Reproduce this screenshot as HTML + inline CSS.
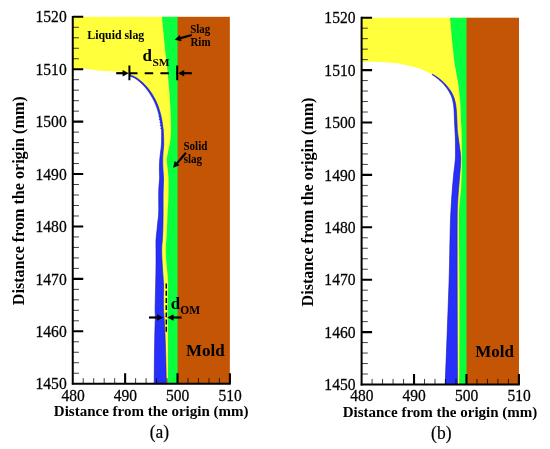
<!DOCTYPE html>
<html><head><meta charset="utf-8"><title>Figure</title>
<style>html,body{margin:0;padding:0;background:#fff}svg{display:block}text{font-family:"Liberation Serif",serif;fill:#000}</style>
</head><body>
<svg width="550" height="449" viewBox="0 0 550 449">
<rect width="550" height="449" fill="#fff"/>
<rect x="73.05" y="16.8" width="104.5" height="366.9" fill="#ffff3c"/>
<path d="M73.00,68.20C74.67,68.25 80.08,68.28 83.00,68.50C85.92,68.72 87.57,69.12 90.50,69.50C93.43,69.88 97.43,70.50 100.60,70.80C103.77,71.10 106.93,71.17 109.50,71.30C112.07,71.43 113.75,71.43 116.00,71.60C118.25,71.77 120.75,71.98 123.00,72.30C125.25,72.62 128.42,73.30 129.50,73.50L129.50,74.20C129.63,74.53 129.80,75.72 130.30,76.19C130.80,76.66 131.76,76.69 132.48,77.01C133.20,77.33 133.89,77.70 134.61,78.11C135.34,78.53 136.12,78.99 136.85,79.51C137.58,80.02 138.28,80.60 138.99,81.20C139.71,81.80 140.43,82.43 141.15,83.10C141.86,83.76 142.56,84.43 143.30,85.19C144.03,85.95 144.81,86.80 145.54,87.67C146.27,88.55 146.96,89.46 147.69,90.46C148.42,91.45 149.22,92.53 149.94,93.63C150.65,94.74 151.34,95.95 151.99,97.11C152.64,98.26 153.25,99.39 153.84,100.58C154.43,101.77 155.04,103.12 155.52,104.23C155.99,105.35 156.34,106.29 156.70,107.29C157.06,108.29 157.36,109.18 157.69,110.25C158.02,111.32 158.38,112.60 158.68,113.72C158.98,114.84 159.24,115.91 159.47,116.98C159.70,118.05 159.86,119.04 160.06,120.15C160.26,121.26 160.48,122.47 160.66,123.63C160.84,124.79 161.01,126.04 161.16,127.12C161.31,128.20 161.48,128.30 161.56,130.11C161.63,131.93 161.63,135.52 161.60,138.00C161.57,140.48 161.57,142.67 161.40,145.00C161.23,147.33 160.88,149.50 160.60,152.00C160.32,154.50 159.90,157.00 159.70,160.00C159.50,163.00 159.42,167.00 159.40,170.00C159.38,173.00 159.68,175.17 159.60,178.00C159.52,180.83 159.05,184.00 158.90,187.00C158.75,190.00 158.73,191.67 158.70,196.00C158.67,200.33 158.85,208.67 158.70,213.00C158.55,217.33 158.10,219.00 157.80,222.00C157.50,225.00 157.20,228.00 156.90,231.00C156.60,234.00 156.15,237.17 156.00,240.00C155.85,242.83 156.00,243.67 156.00,248.00C156.00,252.33 156.05,260.00 156.00,266.00C155.95,272.00 155.82,278.33 155.70,284.00C155.58,289.67 155.40,295.67 155.30,300.00C155.20,304.33 155.10,307.17 155.10,310.00C155.10,312.83 155.35,312.83 155.30,317.00C155.25,321.17 154.95,327.83 154.80,335.00C154.65,342.17 154.50,351.88 154.40,360.00C154.30,368.12 154.23,379.75 154.20,383.70L73.05,383.7Z" fill="#fff"/>
<path d="M129.50,74.20C129.63,74.53 129.80,75.72 130.30,76.19C130.80,76.66 131.76,76.69 132.48,77.01C133.20,77.33 133.89,77.70 134.61,78.11C135.34,78.53 136.12,78.99 136.85,79.51C137.58,80.02 138.28,80.60 138.99,81.20C139.71,81.80 140.43,82.43 141.15,83.10C141.86,83.76 142.56,84.43 143.30,85.19C144.03,85.95 144.81,86.80 145.54,87.67C146.27,88.55 146.96,89.46 147.69,90.46C148.42,91.45 149.22,92.53 149.94,93.63C150.65,94.74 151.34,95.95 151.99,97.11C152.64,98.26 153.25,99.39 153.84,100.58C154.43,101.77 155.04,103.12 155.52,104.23C155.99,105.35 156.34,106.29 156.70,107.29C157.06,108.29 157.36,109.18 157.69,110.25C158.02,111.32 158.38,112.60 158.68,113.72C158.98,114.84 159.24,115.91 159.47,116.98C159.70,118.05 159.86,119.04 160.06,120.15C160.26,121.26 160.48,122.47 160.66,123.63C160.84,124.79 161.01,126.04 161.16,127.12C161.31,128.20 161.48,128.30 161.56,130.11C161.63,131.93 161.63,135.52 161.60,138.00C161.57,140.48 161.57,142.67 161.40,145.00C161.23,147.33 160.88,149.50 160.60,152.00C160.32,154.50 159.90,157.00 159.70,160.00C159.50,163.00 159.42,167.00 159.40,170.00C159.38,173.00 159.68,175.17 159.60,178.00C159.52,180.83 159.05,184.00 158.90,187.00C158.75,190.00 158.73,191.67 158.70,196.00C158.67,200.33 158.85,208.67 158.70,213.00C158.55,217.33 158.10,219.00 157.80,222.00C157.50,225.00 157.20,228.00 156.90,231.00C156.60,234.00 156.15,237.17 156.00,240.00C155.85,242.83 156.00,243.67 156.00,248.00C156.00,252.33 156.05,260.00 156.00,266.00C155.95,272.00 155.82,278.33 155.70,284.00C155.58,289.67 155.40,295.67 155.30,300.00C155.20,304.33 155.10,307.17 155.10,310.00C155.10,312.83 155.35,312.83 155.30,317.00C155.25,321.17 154.95,327.83 154.80,335.00C154.65,342.17 154.50,351.88 154.40,360.00C154.30,368.12 154.23,379.75 154.20,383.70L166.30,383.70C166.22,379.75 166.02,368.12 165.80,360.00C165.58,351.88 165.30,342.17 165.00,335.00C164.70,327.83 164.25,321.17 164.00,317.00C163.75,312.83 163.60,312.83 163.50,310.00C163.40,307.17 163.40,304.33 163.40,300.00C163.40,295.67 163.68,289.67 163.50,284.00C163.32,278.33 162.60,271.67 162.30,266.00C162.00,260.33 161.70,254.33 161.70,250.00C161.70,245.67 162.12,243.17 162.30,240.00C162.48,236.83 162.68,234.00 162.80,231.00C162.92,228.00 162.95,225.00 163.00,222.00C163.05,219.00 163.08,217.33 163.10,213.00C163.12,208.67 163.07,200.33 163.10,196.00C163.13,191.67 163.23,190.00 163.30,187.00C163.37,184.00 163.55,180.83 163.50,178.00C163.45,175.17 163.13,173.00 163.00,170.00C162.87,167.00 162.68,163.00 162.70,160.00C162.72,157.00 162.93,154.50 163.10,152.00C163.27,149.50 163.62,147.33 163.70,145.00C163.78,142.67 163.68,140.52 163.60,138.00C163.52,135.48 163.37,131.74 163.24,129.89C163.12,128.03 162.99,127.97 162.84,126.88C162.69,125.80 162.52,124.54 162.34,123.37C162.16,122.20 161.94,120.97 161.74,119.85C161.54,118.73 161.37,117.72 161.13,116.62C160.90,115.53 160.62,114.43 160.32,113.28C160.02,112.14 159.65,110.85 159.31,109.75C158.98,108.65 158.67,107.74 158.30,106.71C157.93,105.68 157.57,104.72 157.08,103.57C156.59,102.42 155.97,101.03 155.36,99.82C154.75,98.61 154.10,97.47 153.41,96.29C152.73,95.12 152.01,93.89 151.26,92.77C150.51,91.64 149.68,90.55 148.91,89.54C148.14,88.54 147.43,87.61 146.66,86.73C145.89,85.84 145.07,84.98 144.30,84.21C143.54,83.44 142.80,82.77 142.05,82.10C141.30,81.43 140.56,80.80 139.81,80.20C139.06,79.60 138.32,79.01 137.55,78.49C136.78,77.97 135.96,77.50 135.19,77.09C134.41,76.67 133.67,76.30 132.92,75.99C132.17,75.67 131.19,75.57 130.70,75.21C130.21,74.85 130.12,74.03 130.00,73.80Z" fill="#2630fa" stroke="#1616c4" stroke-width="0.6"/>
<path d="M159.8,115.4l-1.7,1.0l1.9,1.0zM160.3,118.4l-1.7,1.0l1.9,1.0zM160.9,121.4l-1.7,1.0l1.9,1.0zM161.3,124.4l-1.7,1.0l1.9,1.0zM161.7,127.4l-1.7,1.0l1.9,1.0z" fill="#2630fa"/>
<path d="M161.90,16.80C162.22,20.00 163.17,29.63 163.80,36.00C164.43,42.37 165.07,49.00 165.70,55.00C166.33,61.00 167.02,66.17 167.60,72.00C168.18,77.83 168.77,84.50 169.20,90.00C169.63,95.50 169.93,100.00 170.20,105.00C170.47,110.00 170.67,115.83 170.80,120.00C170.93,124.17 171.03,127.00 171.00,130.00C170.97,133.00 170.83,135.50 170.60,138.00C170.37,140.50 170.03,142.67 169.60,145.00C169.17,147.33 168.47,149.50 168.00,152.00C167.53,154.50 166.93,157.83 166.80,160.00C166.67,162.17 167.03,163.33 167.20,165.00C167.37,166.67 167.58,167.83 167.80,170.00C168.02,172.17 168.37,175.17 168.50,178.00C168.63,180.83 168.60,184.00 168.60,187.00C168.60,190.00 168.67,191.67 168.50,196.00C168.33,200.33 167.87,207.17 167.60,213.00C167.33,218.83 167.12,226.50 166.90,231.00C166.68,235.50 166.48,237.17 166.30,240.00C166.12,242.83 165.85,245.17 165.80,248.00C165.75,250.83 165.85,254.00 166.00,257.00C166.15,260.00 166.43,263.00 166.70,266.00C166.97,269.00 167.37,272.00 167.60,275.00C167.83,278.00 168.07,280.33 168.10,284.00C168.13,287.67 167.88,292.67 167.80,297.00C167.72,301.33 167.57,303.67 167.60,310.00C167.63,316.33 167.93,322.72 168.00,335.00C168.07,347.28 168.00,375.58 168.00,383.70L178.55,383.7L178.55,16.8Z" fill="#0aff3e"/>
<rect x="177.55" y="16.8" width="52.3" height="366.9" fill="#c35505"/>
<g stroke="#000" stroke-width="2" fill="none">
<path d="M72.75,15.9V384.59999999999997"/>
<path d="M71.85,383.7H230.8"/>
<path d="M72.75,16.80h10.5M72.75,69.21h10.5M72.75,121.63h10.5M72.75,174.04h10.5M72.75,226.46h10.5M72.75,278.87h10.5M72.75,331.29h10.5" stroke-width="2.1"/>
<path d="M125.13,383.7v-10.4M177.52,383.7v-10.4M229.90,383.7v-10.4" stroke-width="2.1"/>
</g>
<g stroke="#000" stroke-width="0.75" fill="none">
<path d="M72.75,27.28h6.2M72.75,37.77h6.2M72.75,48.25h6.2M72.75,58.73h6.2M72.75,79.70h6.2M72.75,90.18h6.2M72.75,100.66h6.2M72.75,111.15h6.2M72.75,132.11h6.2M72.75,142.59h6.2M72.75,153.08h6.2M72.75,163.56h6.2M72.75,184.53h6.2M72.75,195.01h6.2M72.75,205.49h6.2M72.75,215.97h6.2M72.75,236.94h6.2M72.75,247.42h6.2M72.75,257.91h6.2M72.75,268.39h6.2M72.75,289.35h6.2M72.75,299.84h6.2M72.75,310.32h6.2M72.75,320.80h6.2M72.75,341.77h6.2M72.75,352.25h6.2M72.75,362.73h6.2M72.75,373.22h6.2M83.23,383.7v-5.6M93.70,383.7v-5.6M104.18,383.7v-5.6M114.66,383.7v-5.6M135.61,383.7v-5.6M146.09,383.7v-5.6M156.56,383.7v-5.6M167.04,383.7v-5.6M187.99,383.7v-5.6M198.47,383.7v-5.6M208.95,383.7v-5.6M219.42,383.7v-5.6"/>
</g>
<g font-size="15.6" text-anchor="end" stroke="#000" stroke-width="0.25">
<text transform="translate(66.7,22.4) scale(1,1.1)">1520</text>
<text transform="translate(66.7,74.8) scale(1,1.1)">1510</text>
<text transform="translate(66.7,127.2) scale(1,1.1)">1500</text>
<text transform="translate(66.7,179.6) scale(1,1.1)">1490</text>
<text transform="translate(66.7,232.1) scale(1,1.1)">1480</text>
<text transform="translate(66.7,284.5) scale(1,1.1)">1470</text>
<text transform="translate(66.7,336.9) scale(1,1.1)">1460</text>
<text transform="translate(66.7,389.3) scale(1,1.1)">1450</text>
</g>
<g font-size="15.5" text-anchor="middle" stroke="#000" stroke-width="0.25">
<text transform="translate(73.0,400.5) scale(1,1.1)">480</text>
<text transform="translate(125.3,400.5) scale(1,1.1)">490</text>
<text transform="translate(177.7,400.5) scale(1,1.1)">500</text>
<text transform="translate(230.1,400.5) scale(1,1.1)">510</text>
</g>
<text x="151.2" y="415.8" font-size="15" font-weight="bold" text-anchor="middle">Distance from the origin (mm)</text>
<text transform="translate(24.0,200.8) rotate(-90) scale(1,1.06)" font-size="16.1" font-weight="bold" text-anchor="middle">Distance from the origin (mm)</text>
<rect x="361.90000000000003" y="17.7" width="104.6" height="366.8" fill="#ffff3c"/>
<path d="M362.30,61.70C364.42,61.72 371.30,61.70 375.00,61.80C378.70,61.90 380.33,61.98 384.50,62.30C388.67,62.62 394.45,62.75 400.00,63.70C405.55,64.65 413.63,66.78 417.80,68.00C421.97,69.22 422.63,69.93 425.00,71.00C427.37,72.07 430.83,73.83 432.00,74.40L432.00,74.60C432.53,74.95 434.17,75.99 435.19,76.72C436.20,77.44 437.14,78.17 438.11,78.96C439.09,79.76 440.04,80.56 441.03,81.50C442.02,82.44 443.08,83.53 444.04,84.62C444.99,85.71 445.90,86.90 446.74,88.03C447.57,89.16 448.30,90.20 449.03,91.42C449.76,92.64 450.51,93.99 451.10,95.36C451.70,96.73 452.19,98.20 452.58,99.66C452.98,101.13 453.24,102.60 453.48,104.17C453.71,105.74 453.85,107.16 453.99,109.10C454.12,111.03 454.18,113.10 454.30,115.76C454.42,118.42 454.58,122.50 454.70,125.05C454.82,127.60 454.89,128.57 455.00,131.06C455.12,133.55 455.32,135.91 455.40,140.00C455.48,144.09 455.60,151.43 455.50,155.60C455.40,159.77 455.08,162.10 454.80,165.00C454.52,167.90 454.22,168.83 453.80,173.00C453.38,177.17 452.67,185.50 452.30,190.00C451.93,194.50 451.90,195.00 451.60,200.00C451.30,205.00 450.80,211.67 450.50,220.00C450.20,228.33 450.03,240.00 449.80,250.00C449.57,260.00 449.52,266.67 449.10,280.00C448.68,293.33 447.95,312.58 447.30,330.00C446.65,347.42 445.55,375.42 445.20,384.50L361.90000000000003,384.5Z" fill="#fff"/>
<path d="M432.00,74.60C432.53,74.95 434.17,75.99 435.19,76.72C436.20,77.44 437.14,78.17 438.11,78.96C439.09,79.76 440.04,80.56 441.03,81.50C442.02,82.44 443.08,83.53 444.04,84.62C444.99,85.71 445.90,86.90 446.74,88.03C447.57,89.16 448.30,90.20 449.03,91.42C449.76,92.64 450.51,93.99 451.10,95.36C451.70,96.73 452.19,98.20 452.58,99.66C452.98,101.13 453.24,102.60 453.48,104.17C453.71,105.74 453.85,107.16 453.99,109.10C454.12,111.03 454.18,113.10 454.30,115.76C454.42,118.42 454.58,122.50 454.70,125.05C454.82,127.60 454.89,128.57 455.00,131.06C455.12,133.55 455.32,135.91 455.40,140.00C455.48,144.09 455.60,151.43 455.50,155.60C455.40,159.77 455.08,162.10 454.80,165.00C454.52,167.90 454.22,168.83 453.80,173.00C453.38,177.17 452.67,185.50 452.30,190.00C451.93,194.50 451.90,195.00 451.60,200.00C451.30,205.00 450.80,211.67 450.50,220.00C450.20,228.33 450.03,240.00 449.80,250.00C449.57,260.00 449.52,266.67 449.10,280.00C448.68,293.33 447.95,312.58 447.30,330.00C446.65,347.42 445.55,375.42 445.20,384.50L457.50,384.50C457.45,368.75 457.25,317.42 457.20,290.00C457.15,262.58 457.10,235.00 457.20,220.00C457.30,205.00 457.58,205.00 457.80,200.00C458.02,195.00 458.15,194.50 458.50,190.00C458.85,185.50 459.57,177.17 459.90,173.00C460.23,168.83 460.38,167.90 460.50,165.00C460.62,162.10 460.92,159.77 460.60,155.60C460.28,151.43 459.13,144.11 458.60,140.00C458.07,135.89 457.65,133.45 457.40,130.94C457.15,128.43 457.22,127.50 457.10,124.95C456.98,122.40 456.85,118.31 456.70,115.64C456.55,112.97 456.41,110.87 456.21,108.90C456.02,106.94 455.82,105.46 455.52,103.83C455.22,102.20 454.89,100.67 454.42,99.14C453.95,97.60 453.37,96.07 452.70,94.64C452.02,93.21 451.18,91.83 450.37,90.58C449.57,89.34 448.76,88.30 447.86,87.17C446.96,86.04 445.98,84.86 444.96,83.78C443.95,82.70 442.82,81.62 441.77,80.70C440.72,79.77 439.71,79.00 438.69,78.24C437.66,77.47 436.66,76.76 435.61,76.08C434.57,75.41 432.94,74.51 432.40,74.20Z" fill="#2630fa" stroke="#1616c4" stroke-width="0.6"/>
<path d="M450.00,17.70C450.52,23.08 452.40,42.83 453.10,50.00C453.80,57.17 453.72,57.13 454.20,60.70C454.68,64.27 455.38,67.85 456.00,71.40C456.62,74.95 457.28,77.85 457.90,82.00C458.52,86.15 459.25,91.80 459.70,96.30C460.15,100.80 460.40,105.05 460.60,109.00C460.80,112.95 460.75,116.50 460.90,120.00C461.05,123.50 461.32,124.07 461.50,130.00C461.68,135.93 461.97,148.43 462.00,155.60C462.03,162.77 461.87,167.27 461.70,173.00C461.53,178.73 461.28,185.50 461.00,190.00C460.72,194.50 460.33,195.00 460.00,200.00C459.67,205.00 459.10,205.00 459.00,220.00C458.90,235.00 459.33,262.58 459.40,290.00C459.47,317.42 459.40,368.75 459.40,384.50L467.5,384.5L467.5,17.7Z" fill="#0aff3e"/>
<rect x="466.5" y="17.7" width="52.5" height="366.8" fill="#c35505"/>
<g stroke="#000" stroke-width="2" fill="none">
<path d="M361.6,16.8V385.4"/>
<path d="M360.70000000000005,384.5H519.8"/>
<path d="M361.6,17.70h10.5M361.6,70.10h10.5M361.6,122.50h10.5M361.6,174.90h10.5M361.6,227.30h10.5M361.6,279.70h10.5M361.6,332.10h10.5" stroke-width="2.1"/>
<path d="M414.03,384.5v-10.4M466.47,384.5v-10.4M518.90,384.5v-10.4" stroke-width="2.1"/>
</g>
<g stroke="#000" stroke-width="0.75" fill="none">
<path d="M361.6,28.18h6.2M361.6,38.66h6.2M361.6,49.14h6.2M361.6,59.62h6.2M361.6,80.58h6.2M361.6,91.06h6.2M361.6,101.54h6.2M361.6,112.02h6.2M361.6,132.98h6.2M361.6,143.46h6.2M361.6,153.94h6.2M361.6,164.42h6.2M361.6,185.38h6.2M361.6,195.86h6.2M361.6,206.34h6.2M361.6,216.82h6.2M361.6,237.78h6.2M361.6,248.26h6.2M361.6,258.74h6.2M361.6,269.22h6.2M361.6,290.18h6.2M361.6,300.66h6.2M361.6,311.14h6.2M361.6,321.62h6.2M361.6,342.58h6.2M361.6,353.06h6.2M361.6,363.54h6.2M361.6,374.02h6.2M372.09,384.5v-5.6M382.57,384.5v-5.6M393.06,384.5v-5.6M403.55,384.5v-5.6M424.52,384.5v-5.6M435.01,384.5v-5.6M445.49,384.5v-5.6M455.98,384.5v-5.6M476.95,384.5v-5.6M487.44,384.5v-5.6M497.93,384.5v-5.6M508.41,384.5v-5.6"/>
</g>
<g font-size="15.6" text-anchor="end" stroke="#000" stroke-width="0.25">
<text transform="translate(355.5,23.3) scale(1,1.1)">1520</text>
<text transform="translate(355.5,75.7) scale(1,1.1)">1510</text>
<text transform="translate(355.5,128.1) scale(1,1.1)">1500</text>
<text transform="translate(355.5,180.5) scale(1,1.1)">1490</text>
<text transform="translate(355.5,232.9) scale(1,1.1)">1480</text>
<text transform="translate(355.5,285.3) scale(1,1.1)">1470</text>
<text transform="translate(355.5,337.7) scale(1,1.1)">1460</text>
<text transform="translate(355.5,390.1) scale(1,1.1)">1450</text>
</g>
<g font-size="15.5" text-anchor="middle" stroke="#000" stroke-width="0.25">
<text transform="translate(361.8,401.3) scale(1,1.1)">480</text>
<text transform="translate(414.2,401.3) scale(1,1.1)">490</text>
<text transform="translate(466.7,401.3) scale(1,1.1)">500</text>
<text transform="translate(519.1,401.3) scale(1,1.1)">510</text>
</g>
<text x="440.0" y="416.6" font-size="15" font-weight="bold" text-anchor="middle">Distance from the origin (mm)</text>
<text transform="translate(312.9,202.0) rotate(-90) scale(1,1.06)" font-size="16.1" font-weight="bold" text-anchor="middle">Distance from the origin (mm)</text>

<g font-weight="bold">
<text x="87.3" y="39.0" font-size="11.85">Liquid slag</text>
<text transform="translate(190.2,32.5) scale(1,1.09)" font-size="10.9">Slag</text>
<text transform="translate(190.5,45.7) scale(1,1.09)" font-size="10.9">Rim</text>
<text transform="translate(183.5,149.8) scale(1,1.07)" font-size="11">Solid</text>
<text transform="translate(183.7,162.9) scale(1,1.07)" font-size="11">slag</text>
<text x="142.6" y="60.9" font-size="17">d</text>
<text x="152.4" y="65.5" font-size="11.4">SM</text>
<text x="170.8" y="309" font-size="16.8">d</text>
<text x="180.2" y="313.9" font-size="11.5">OM</text>
<text x="186" y="355.7" font-size="17">Mold</text>
<text x="475.2" y="356.5" font-size="17">Mold</text>
</g>
<g stroke="#000" fill="none">
<path d="M129.4,65.4V80.2M177.2,65.4V80.2" stroke-width="2"/>
<path d="M129,73.2H177" stroke-width="2.1" stroke-dasharray="8.5 7.2"/>
<path d="M166.3,283.6V333" stroke-width="1.5" stroke-dasharray="4.9 2.3"/>
</g>
<path d="M116.2,73.2L123.6,73.2" stroke="#000" stroke-width="2.2" fill="none"/><path d="M128.8,73.2L122.6,76.5L122.6,70.0Z" fill="#000"/>
<path d="M191.8,73.2L183.2,73.2" stroke="#000" stroke-width="2.2" fill="none"/><path d="M178.0,73.2L184.2,70.0L184.2,76.5Z" fill="#000"/>
<path d="M149.0,317.5L158.0,317.5" stroke="#000" stroke-width="2.2" fill="none"/><path d="M163.2,317.5L157.0,320.8L157.0,314.2Z" fill="#000"/>
<path d="M181.6,317.5L172.5,317.5" stroke="#000" stroke-width="2.2" fill="none"/><path d="M167.3,317.5L173.5,314.2L173.5,320.8Z" fill="#000"/>
<path d="M191.8,35.0L179.7,38.4" stroke="#000" stroke-width="2.2" fill="none"/><path d="M174.7,39.8L179.8,35.0L181.5,41.3Z" fill="#000"/>
<path d="M186.0,152.8L176.5,163.9" stroke="#000" stroke-width="2.2" fill="none"/><path d="M173.1,167.8L174.7,161.0L179.6,165.2Z" fill="#000"/>
<text transform="translate(159.4,438.4) scale(1,1.05)" font-size="17.5" text-anchor="middle" stroke="#000" stroke-width="0.2">(a)</text>
<text transform="translate(441.3,439) scale(1,1.05)" font-size="17.5" text-anchor="middle" stroke="#000" stroke-width="0.2">(b)</text>

</svg>
</body></html>
